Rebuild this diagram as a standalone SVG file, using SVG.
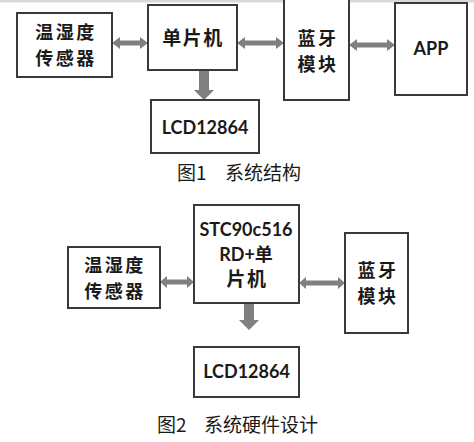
<svg xmlns="http://www.w3.org/2000/svg" width="474" height="442" viewBox="0 0 474 442">
<style>
.box{fill:#fff;stroke:#3a3a3a;stroke-width:2}
.cn{font-family:"Noto Sans CJK SC","Noto Sans",sans-serif;font-weight:bold;font-size:19px;letter-spacing:1.5px;fill:#1a1a1a;text-anchor:middle}
.cn2{font-family:"Noto Sans CJK SC","Noto Sans",sans-serif;font-weight:bold;font-size:18px;letter-spacing:2.5px;fill:#1a1a1a;text-anchor:middle}
.en{font-family:Lato,"Liberation Sans","Noto Sans CJK SC",sans-serif;font-weight:bold;font-size:18px;fill:#1a1a1a;text-anchor:middle}
.cap{font-family:"Noto Sans CJK SC","Noto Sans",sans-serif;font-size:19px;fill:#1a1a1a}
.arr{fill:#808080}
</style>
<rect x="0" y="0" width="474" height="442" fill="#fff"/>
<rect x="0" y="0" width="474" height="2.5" fill="#d9d9d9"/>
<g id="connectors">
<polygon class="arr" points="112,43 120,37 120,40.5 140,40.5 140,37 148,43 140,49 140,45.5 120,45.5 120,49"/>
<polygon class="arr" points="237,43 245,37 245,40.5 276,40.5 276,37 284,43 276,49 276,45.5 245,45.5 245,49"/>
<polygon class="arr" points="349,45 357,39 357,42.5 387,42.5 387,39 395,45 387,51 387,47.5 357,47.5 357,51"/>
<polygon class="arr" points="199,71 209,71 209,90 214,90 204,100 194,90 199,90"/>
<polygon class="arr" points="160,282 167,276 167,279.5 187,279.5 187,276 194,282 187,288 187,284.5 167,284.5 167,288"/>
<polygon class="arr" points="299,283 306,277 306,280.5 338,280.5 338,277 345,283 338,289 338,285.5 306,285.5 306,289"/>
<polygon class="arr" points="244,304 254,304 254,320 259,320 249,330 239,320 244,320"/>
</g>
<g id="f1-sensor"><rect class="box" x="17" y="13" width="95" height="64"/>
<text class="cn2" x="66" y="39">温湿度</text><text class="cn2" x="66" y="65">传感器</text></g>
<g id="f1-mcu"><rect class="box" x="148" y="5" width="89" height="65"/>
<text class="cn" x="193" y="45">单片机</text></g>
<g id="f1-bt"><rect class="box" x="284" y="-3" width="65" height="103"/>
<text class="cn2" x="318" y="45">蓝牙</text><text class="cn2" x="318" y="71">模块</text></g>
<g id="f1-app"><rect class="box" x="395" y="3" width="72" height="92"/>
<text class="en" x="431" y="55">APP</text></g>
<g id="f1-lcd"><rect class="box" x="151" y="100" width="108" height="53"/>
<text class="en" x="205" y="134">LCD12864</text></g>
<g id="cap1"><text class="cap" x="177" y="180">图1</text><text class="cap" x="225" y="180">系统结构</text></g>
<g id="f2-sensor"><rect class="box" x="68" y="247" width="92" height="61"/>
<text class="cn2" x="115" y="272">温湿度</text><text class="cn2" x="115" y="298">传感器</text></g>
<g id="f2-mcu"><rect class="box" x="194" y="205" width="105" height="98"/>
<text class="en" x="246" y="236">STC90c516</text>
<text class="en" x="246" y="261">RD+单</text>
<text class="cn" x="247" y="286">片机</text></g>
<g id="f2-bt"><rect class="box" x="345" y="233" width="63" height="100"/>
<text class="cn2" x="378" y="277">蓝牙</text><text class="cn2" x="378" y="303">模块</text></g>
<g id="f2-lcd"><rect class="box" x="194" y="347" width="105" height="50"/>
<text class="en" x="246.5" y="378">LCD12864</text></g>
<g id="cap2"><text class="cap" x="157" y="432">图2</text><text class="cap" x="204" y="432">系统硬件设计</text></g>
</svg>
